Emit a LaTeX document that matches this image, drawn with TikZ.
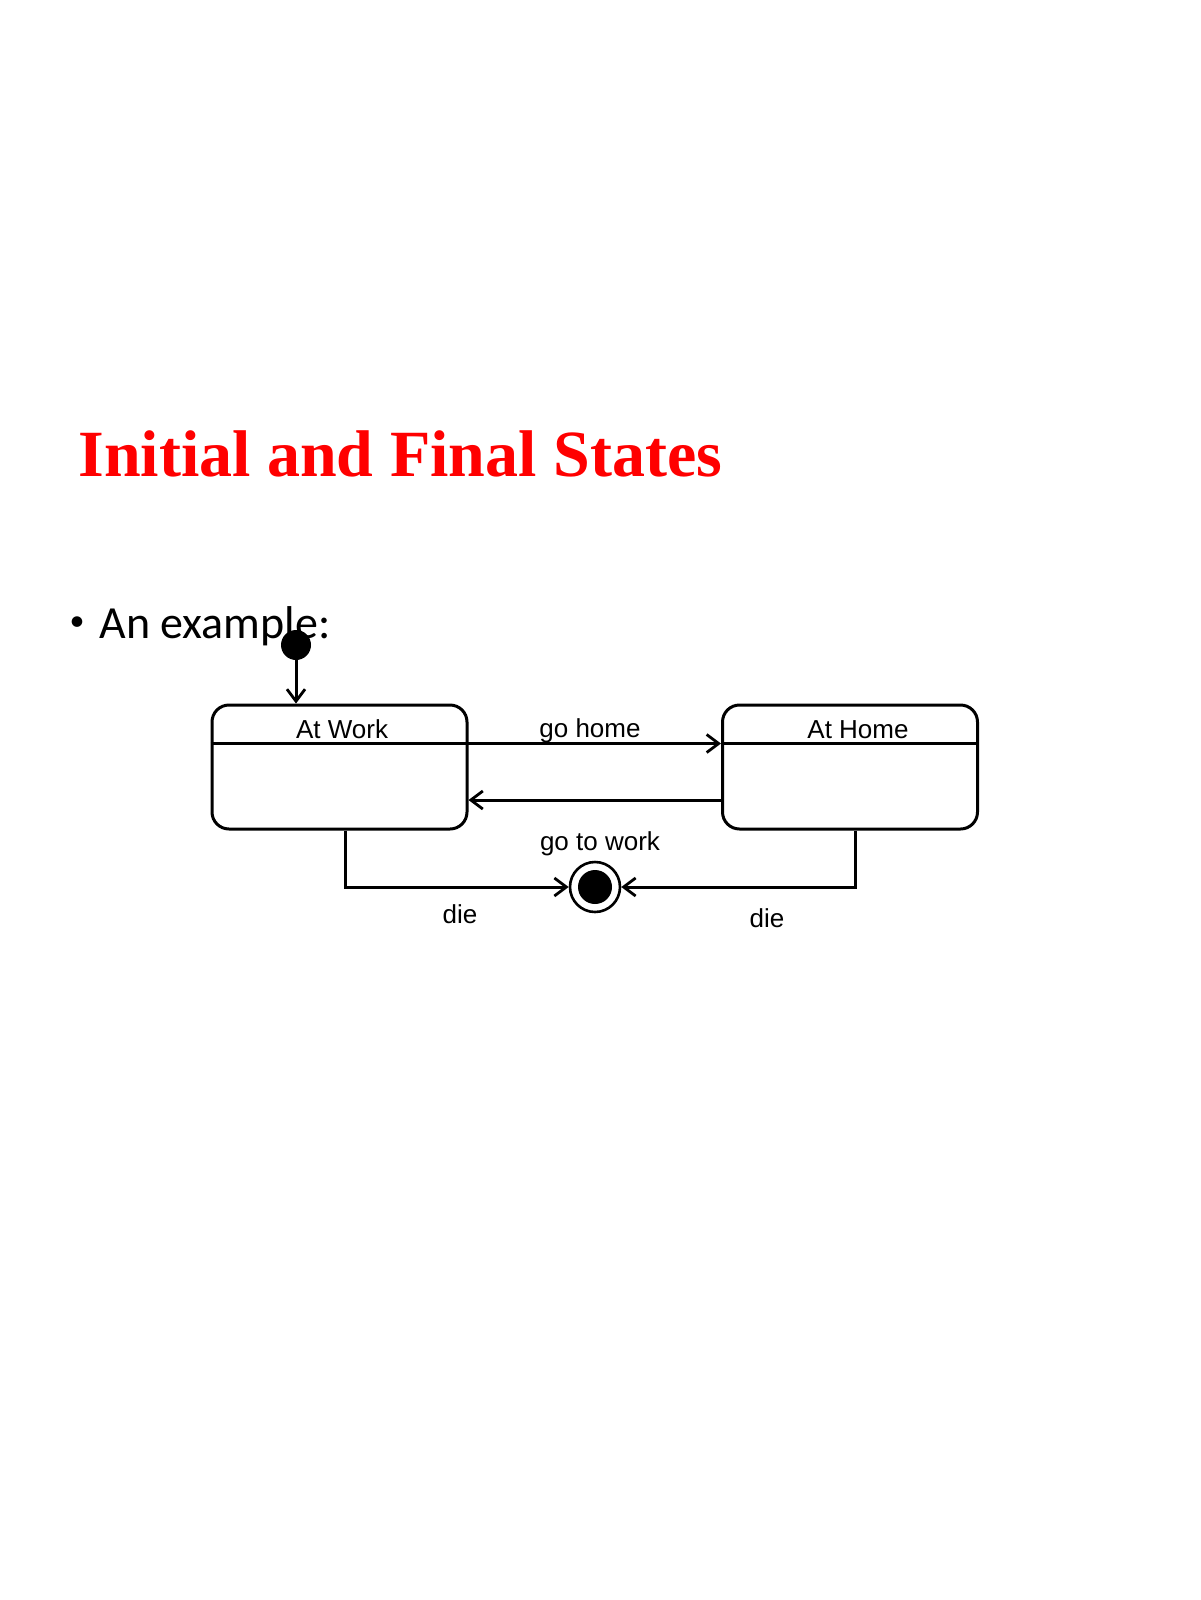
\documentclass[tikz,border=0pt]{standalone}
\usepackage{fontspec}
\setmainfont{Liberation Sans}
\newfontfamily\titlefont{Liberation Serif}
\newfontfamily\bodyfont{Carlito}
\usetikzlibrary{arrows.meta}
\begin{document}
\begin{tikzpicture}[x=0.5pt,y=-0.5pt,
  statebox/.style={draw, line width=1.5pt, rounded corners=8.5pt, minimum width=127.5pt, minimum height=62pt, inner sep=0pt},
  divider/.style={line width=1.1pt},
  arr/.style={line width=1.5pt, -{Straight Barb[length=6pt,width=9pt,line width=1.4pt]}},
  lbl/.style={font=\fontsize{13}{15}\selectfont, inner sep=0pt, anchor=base},
  initst/.style={circle, fill=black, minimum size=15pt, inner sep=0pt},
  finalst/.style={circle, draw, line width=1.3pt, minimum size=25pt, inner sep=0pt,
     path picture={\fill[black] (path picture bounding box.center) circle (8.5pt);}}]
\useasboundingbox (0,0) rectangle (1200,1600);
% title and bullet
\node[anchor=base west, inner sep=0pt, text=red, font=\titlefont\bfseries\fontsize{33}{40}\selectfont] (title) at (78,476) {Initial and Final States};
\node[anchor=center, inner sep=0pt, font=\bodyfont\fontsize{15}{18}\selectfont] (bullet) at (77,624) {\textbullet};
\node[anchor=base west, inner sep=0pt, font=\bodyfont\fontsize{23}{28}\selectfont] (example) at (99,638) {An example:};
% states
\node[statebox] (work) at (339.5,767) {};
\node[statebox] (home) at (850,767) {};
\draw[divider] ([yshift=-20pt]work.north west) -- ([yshift=-20pt]work.north east);
\draw[divider] ([yshift=-20pt]home.north west) -- ([yshift=-20pt]home.north east);
\node[lbl] (workname) at (342,738) {At Work};
\node[lbl] (homename) at (858,738) {At Home};
% initial and final
\node[initst] (init) at (296,645) {};
\node[finalst] (final) at (595,887) {};
% transitions
\draw[arr] (init) -- (init |- work.north);
\draw[arr] ([yshift=-20pt]work.north east) -- ([yshift=-20pt]home.north west);
\draw[arr] ([yshift=-16.5pt]home.west) -- ([yshift=-16.5pt]work.east);
\draw[arr] ([xshift=2.75pt]work.south) |- (final.west);
\draw[arr] ([xshift=2.5pt]home.south) |- (final.east);
% labels
\node[lbl] (lgohome) at (590,737) {go home};
\node[lbl] (lgowork) at (600,850) {go to work};
\node[lbl] (ldie1) at (460,923) {die};
\node[lbl] (ldie2) at (767,927) {die};
\end{tikzpicture}
\end{document}
